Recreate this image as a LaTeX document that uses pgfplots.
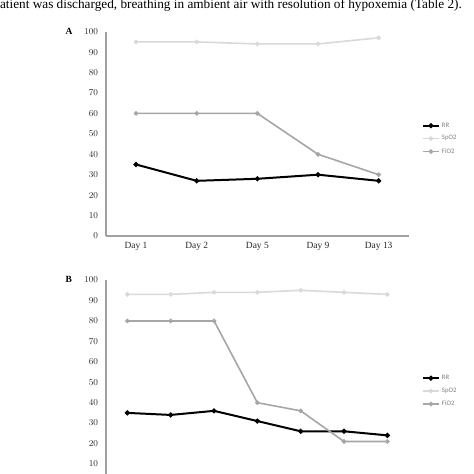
\documentclass[border=0pt]{standalone}
\usepackage{fontspec}
\setmainfont{Liberation Serif}
\newfontfamily\legfont{Carlito}
\usepackage{pgfplots}
\pgfplotsset{compat=1.18}

\definecolor{rrcol}{HTML}{000000}
\definecolor{spcol}{HTML}{D9D9D9}
\definecolor{ficol}{HTML}{A6A6A6}
\definecolor{axcol}{HTML}{A0A0A0}
\definecolor{legtext}{HTML}{808080}

\pgfplotsset{
  vitals/.style={
    scale only axis,
    width=303.3bp, height=204.3bp,
    axis x line=bottom, axis y line=left,
    axis line style={-, axcol, line width=1.6bp},
    ymin=0, ymax=100,
    major tick length=0pt,
    tick label style={font=\fontsize{9.5}{10}\selectfont, text=black!85},
    yticklabel style={inner sep=0pt, anchor=east, xshift=-7.5bp},
    xticklabel style={inner sep=0pt, anchor=north, yshift=-6bp},
    xtick=data,
    legend cell align=left,
    legend style={draw=none, fill=none, inner sep=0pt,
      font=\legfont\fontsize{6.8}{7}\selectfont, text=legtext,
      row sep=3bp,
      /tikz/every even column/.append style={column sep=0pt}},
    legend image code/.code={%
      \draw[mark repeat=2, mark phase=2, #1]
        plot coordinates {(0bp,0bp) (8bp,0bp) (16bp,0bp)};},
    every axis plot/.append style={mark=*, mark size=1.4bp},
    rr/.style={rrcol, line width=2bp, mark options={fill=rrcol}},
    sp/.style={spcol, line width=1.6bp, mark options={fill=spcol}},
    fi/.style={ficol, line width=1.6bp, mark options={fill=ficol}},
  }
}

\begin{document}
\begin{tikzpicture}[x=1bp, y=1bp]
\useasboundingbox (0,0) rectangle (474,474);

% running text above the figure
\node[anchor=base east, inner sep=0pt, font=\fontsize{13.3}{14}\selectfont]
  at (462,465) {atient was discharged, breathing in ambient air with resolution of hypoxemia (Table 2).};

% ---------- panel A ----------
\begin{axis}[vitals, at={(105.7bp,238bp)}, anchor=south west,
  xmin=-0.5, xmax=4.5, ytick={0,10,...,100},
  xticklabels={Day 1, Day 2, Day 5, Day 9, Day 13},
  legend style={at={(1.042,0.565)}, anchor=north west}]
\addplot[rr] coordinates {(0,35) (1,27) (2,28) (3,30) (4,27)};
\addlegendentry{RR}
\addplot[sp] coordinates {(0,95) (1,95) (2,94) (3,94) (4,97)};
\addlegendentry{SpO2}
\addplot[fi] coordinates {(0,60) (1,60) (2,60) (3,40) (4,30)};
\addlegendentry{FiO2}
\end{axis}
\node[font=\bfseries\fontsize{9.5}{10}\selectfont, inner sep=0pt] at (69,442.3) {A};

% ---------- panel B (lower part runs past the page) ----------
\begin{axis}[vitals, at={(105.7bp,-10.4bp)}, anchor=south west,
  xmin=-0.5, xmax=6.5, ytick={10,20,...,100},
  xticklabels={},
  legend style={at={(1.042,0.545)}, anchor=north west}]
\addplot[rr] coordinates {(0,35) (1,34) (2,36) (3,31) (4,26) (5,26) (6,24)};
\addlegendentry{RR}
\addplot[sp] coordinates {(0,93) (1,93) (2,94) (3,94) (4,95) (5,94) (6,93)};
\addlegendentry{SpO2}
\addplot[fi] coordinates {(0,80) (1,80) (2,80) (3,40) (4,36) (5,21) (6,21)};
\addlegendentry{FiO2}
\end{axis}
\node[font=\bfseries\fontsize{9.5}{10}\selectfont, inner sep=0pt] at (68.7,195) {B};
\end{tikzpicture}
\end{document}
